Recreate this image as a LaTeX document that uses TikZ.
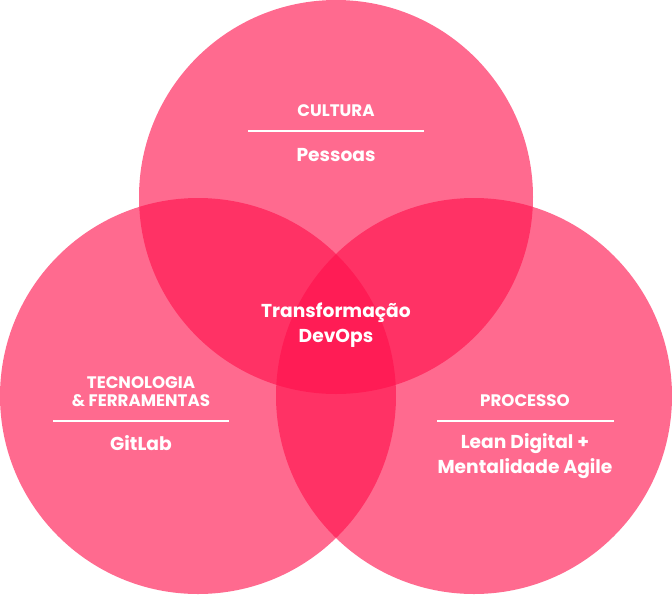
\documentclass[tikz,border=0pt]{standalone}
\usepackage{fontspec}
\setmainfont{Poppins}
\definecolor{venn}{RGB}{255,15,75}
\begin{document}
\begin{tikzpicture}[x=0.75pt,y=-0.75pt,
  set/.style={fill=venn, fill opacity=0.62, draw=none},
  title/.style={text=white, font=\bfseries\fontsize{12.5}{13.5}\selectfont, align=center},
  label/.style={text=white, font=\bfseries\fontsize{14}{19}\selectfont, align=center},
  rule/.style={white, line width=1pt}]
  \useasboundingbox (0,0) rectangle (672,594);
  \fill[set] (336,197) circle[radius=197];
  \fill[set] (198,396) circle[radius=198];
  \fill[set] (474,396) circle[radius=198];
  % cultura
  \node[title] (cult) at (336,111) {CULTURA};
  \coordinate (cl) at (248,131); \coordinate (cr) at (424,131);
  \draw[rule] (cl) -- (cr);
  \node[label] (pess) at (336,155) {Pessoas};
  % tecnologia
  \node[title] (tec) at (141,392) {TECNOLOGIA\\\& FERRAMENTAS};
  \coordinate (tl) at (53,421); \coordinate (tr) at (229,421);
  \draw[rule] (tl) -- (tr);
  \node[label] (git) at (141,443) {GitLab};
  % processo
  \node[title] (proc) at (525,401) {PROCESSO};
  \coordinate (pl) at (437,421); \coordinate (pr) at (614,421);
  \draw[rule] (pl) -- (pr);
  \node[label] (lean) at (525,456) {Lean Digital +\\Mentalidade Agile};
  % centro
  \node[label] (devops) at (336,325) {Transformação\\DevOps};
\end{tikzpicture}
\end{document}
